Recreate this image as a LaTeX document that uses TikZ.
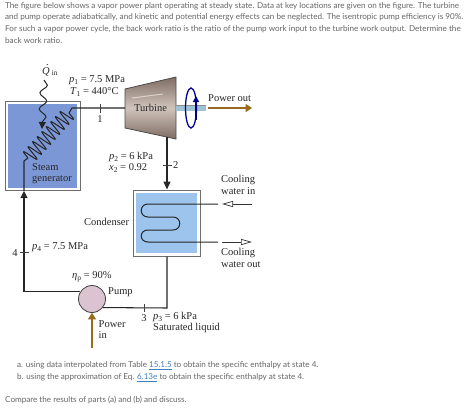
\documentclass[tikz,border=0pt]{standalone}
\usepackage{fontspec}
\setmainfont{Liberation Serif}
\newfontfamily\uifont{Lato}
\usetikzlibrary{arrows.meta,decorations.pathmorphing}
\definecolor{sgblue}{HTML}{7C97D6}
\definecolor{condblue}{HTML}{9CC4EC}
\definecolor{framegrey}{HTML}{6E6E6E}
\definecolor{brownarrow}{HTML}{9A6A1E}
\definecolor{pumpfill}{HTML}{DCC3D2}
\definecolor{uitext}{HTML}{666666}
\definecolor{linkblue}{HTML}{3F7FC4}
\definecolor{shaftblue}{HTML}{9FC3D6}
\definecolor{turbdark}{HTML}{806C62}
\definecolor{turblight}{HTML}{CFC4BC}
\newcommand{\sbs}[1]{\raisebox{-2pt}{\fontsize{7.5}{8}\selectfont #1}}
\tikzset{
 pipe/.style={draw=black!85,line width=1.05pt},
 frame/.style={draw=framegrey,line width=1pt,fill=white},
 lab/.style={inner sep=0pt,anchor=west,font=\fontsize{10.5}{11.6}\selectfont,text=black!85,align=left},
 ui/.style={inner sep=0pt,anchor=west,font=\uifont\fontsize{8.1}{10}\selectfont,text=uitext},
 power/.style={draw=brownarrow,line width=2.6pt,-{Triangle[length=6.5pt,width=8pt]}},
 coolflow/.style={draw=black!80,line width=0.7pt,-{Triangle[open,fill=white,length=11pt,width=6pt]}},
 tick/.style={draw=black!75,line width=0.6pt},
}
\begin{document}
\begin{tikzpicture}[x=1pt,y=-1pt]
\useasboundingbox[fill=white] (0,0) rectangle (474,413);
% question text
\node[ui] (q1) at (5,6.5) {The figure below shows a vapor power plant operating at steady state. Data at key locations are given on the figure. The turbine};
\node[ui] (q2) at (5,17.5) {and pump operate adiabatically, and kinetic and potential energy effects can be neglected. The isentropic pump efficiency is 90\%.};
\node[ui] (q3) at (5,29) {For such a vapor power cycle, the back work ratio is the ratio of the pump work input to the turbine work output. Determine the};
\node[ui] (q4) at (5,41) {back work ratio.};
\node[ui] (a1) at (17,366) {a. using data interpolated from Table \textcolor{linkblue}{\underline{15.1.5}} to obtain the specific enthalpy at state 4.};
\node[ui] (b1) at (17,377.5) {b. using the approximation of Eq. \textcolor{linkblue}{\underline{6.13e}} to obtain the specific enthalpy at state 4.};
\node[ui] (c1) at (5,400.5) {Compare the results of parts (a) and (b) and discuss.};
% steam generator
\node[frame,minimum width=75pt,minimum height=89pt,inner sep=0pt] (sg) at (42.5,145.5) {};
\fill[sgblue] (8,104) rectangle (77,187.5);
\node[lab,anchor=north west] (sgl) at (32,163) {Steam\\generator};
% condenser
\node[frame,minimum width=67pt,minimum height=66pt,inner sep=0pt] (cond) at (166.5,223) {};
\fill[condblue] (136,193) rectangle (197,253);
% turbine
\coordinate (t1) at (125,89);
\coordinate (t2) at (176,77);
\coordinate (t3) at (176,139);
\coordinate (t4) at (125,128);
\coordinate (tin) at (125,108);
\coordinate (tout) at (167,137);
\shade[top color=turbdark,bottom color=turbdark,middle color=turblight,draw=black!70,line width=0.8pt] (t1) -- (t2) -- (t3) -- (t4) -- cycle;
\draw[white!90!brown,line width=1pt,opacity=.6] (132,98) -- (163,94);
\node[lab,anchor=center] (turb) at (150.5,108) {Turbine};
% steam generator coil
\coordinate (coilA) at (69,113);
\coordinate (coilB) at (28,158);
\coordinate (s1) at (72,108);
\coordinate (s4) at (24,161);
\draw[black!85,line width=1pt] plot[domain=0:1,samples=260,smooth] ({69-41*\x+7.5*sin(3240*\x)*0.74},{113+45*\x+7.5*sin(3240*\x)*0.67});
\draw[pipe] (tin) -- (s1) -- (coilA);
\coordinate (p4) at (24,234);
\draw[pipe,-{Triangle[length=7pt,width=7pt]}] (p4) -- (24,191);
\draw[pipe] (24,191) -- (s4) -- (coilB);
% Q in
\coordinate (qa) at (44,80);
\coordinate (qb) at (42,129);
\draw[black!85,line width=1pt,-{Triangle[length=7pt,width=7pt]},decorate,decoration={snake,amplitude=3.6pt,segment length=16pt,post length=7pt}] (qa) -- (qb);
\node[lab] (ql) at (42,72) {\textit{Q}\,\raisebox{-1pt}{\fontsize{7.5}{8}\selectfont in}};
\fill[black!85] (47.2,64.5) circle[radius=0.6pt];
% turbine to condenser
\draw[pipe,-{Triangle[length=8pt,width=7pt]}] (tout) -- (cond.north -| tout);
% condenser coil
\coordinate (c1a) at (218,204);
\coordinate (c1b) at (218,242);
\draw[black!85,line width=1pt] (c1a) -- (148,204) .. controls (139,204) and (139,217) .. (148,217) -- (173,217) .. controls (182,217) and (182,230) .. (173,230) -- (148,230) .. controls (139,230) and (139,242) .. (148,242) -- (c1b);
\coordinate (cwa) at (252,204);
\coordinate (cwb) at (222,204);
\coordinate (cwc) at (222,242);
\coordinate (cwd) at (252,242);
\draw[coolflow] (cwa) -- (cwb);
\draw[coolflow] (cwc) -- (cwd);
\node[lab,anchor=north west] (cwin) at (221,175.5) {Cooling\\water in};
\node[lab,anchor=north west] (cwout) at (221,248) {Cooling\\water out};
% shaft
\coordinate (sha) at (176,108);
\coordinate (shb) at (206,108);
\draw[black!45,line width=6.5pt] (sha) -- (shb);
\draw[shaftblue,line width=5pt] (sha) -- (shb);
\draw[blue!55!black,line width=1.3pt] (191,108) ellipse[x radius=5.5pt,y radius=20pt];
\draw[blue!55!black,line width=1.3pt,-{Triangle[length=6pt,width=6pt]}] (196,120) -- (196,96);
\coordinate (pwa) at (208,108);
\coordinate (pwb) at (252,108);
\draw[power] (pwa) -- (pwb);
\node[lab] (pwo) at (208,98.5) {Power out};
% pump
\node[circle,draw=black!75,line width=0.8pt,fill=pumpfill,minimum size=27pt,inner sep=0pt] (pump) at (92,299) {};
\coordinate (p3c) at (167,308);
\draw[pipe] (cond.south -| p3c) -- (p3c) -- (pump.-38);
\draw[pipe] (p4) |- (pump.148);
\coordinate (pia) at (92,348);
\draw[power] (pia) -- (pump.south);
\node[lab] (pl) at (108,292) {Pump};
\node[lab,anchor=north west] (pin) at (98.5,320) {Power\\in};
\node[lab] (eta) at (72,277) {\textit{η}\raisebox{-2pt}{\fontsize{7.5}{8}\selectfont p} = 90\%};
% state labels
\node[lab] (l1) at (69,80.5) {\textit{p}\sbs{1} = 7.5 MPa};
\node[lab] (l2) at (70,92) {\textit{T}\sbs{1} = 440\textdegree C};
\node[lab,anchor=center] (n1) at (100,119) {1};
\draw[tick] (100,104) -- (100,113);
\node[lab] (l3) at (109,156.5) {\textit{p}\sbs{2} = 6 kPa};
\node[lab] (l4) at (109,168) {\textit{x}\sbs{2} = 0.92};
\draw[tick] (162.5,165) -- (171.5,165);
\node[lab] (n2) at (173,165.5) {2};
\node[lab] (cl) at (84,222) {Condenser};
\draw[tick] (19.5,252.5) -- (28.5,252.5);
\node[lab,anchor=center] (n4) at (15,253) {4};
\node[lab] (l5) at (32,247) {\textit{p}\sbs{4} = 7.5 MPa};
\draw[tick] (144,304) -- (144,312);
\node[lab,anchor=center] (n3) at (144,318) {3};
\node[lab] (l6) at (153,317) {\textit{p}\sbs{3} = 6 kPa};
\node[lab] (l7) at (153,328) {Saturated liquid};
\end{tikzpicture}
\end{document}
